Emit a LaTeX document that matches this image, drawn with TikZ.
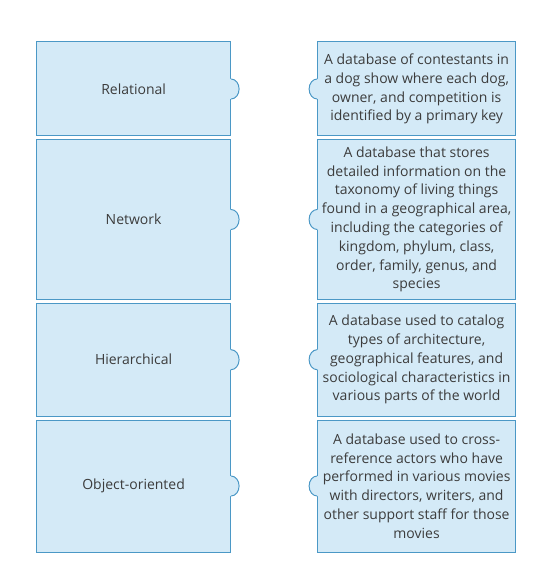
\documentclass[tikz,border=0pt]{standalone}
\usepackage{fontspec}
\setmainfont{Open Sans}
\usepackage{tikz}
\usetikzlibrary{positioning}
\definecolor{Pale}{HTML}{D4EAF7}
\definecolor{Edge}{HTML}{4B98C6}
\definecolor{Ink}{HTML}{3C3C3C}

\begin{document}
\begin{tikzpicture}[
          x=1pt, y=-1pt,
          font=\fontsize{14}{18.8}\selectfont,
          card/.style={draw=Edge, fill=Pale, line width=1pt, inner sep=0pt, align=center, text=Ink},
          term/.style={card, minimum width=194pt},
          desc/.style={card, minimum width=198pt},
          tabline/.style={draw=Edge, line width=1pt}
        ]
          \useasboundingbox (0,0) rectangle (550,572);

          \node[term, minimum height=94pt] (l1) at (133.6,89) {Relational};
          \node[desc, minimum height=94pt] (r1) at (416.6,89) {A database of contestants in\\a dog show where each dog,\\owner, and competition is\\identified by a primary key};

          \node[term, minimum height=159pt] (l2) at (133.6,219.5) {Network};
          \node[desc, minimum height=159pt] (r2) at (416.6,219.5) {A database that stores\\detailed information on the\\taxonomy of living things\\found in a geographical area,\\including the categories of\\kingdom, phylum, class,\\order, family, genus, and\\species};

          \node[term, minimum height=113pt] (l3) at (133.6,359.7) {Hierarchical};
          \node[desc, minimum height=113pt] (r3) at (416.6,359.7) {A database used to catalog\\types of architecture,\\geographical features, and\\sociological characteristics in\\various parts of the world};

          \node[term, minimum height=132pt] (l4) at (133.6,486) {Object-oriented};
          \node[desc, minimum height=132pt] (r4) at (416.6,486) {A database used to cross-\\reference actors who have\\performed in various movies\\with directors, writers, and\\other support staff for those\\movies};

          % tabs on the facing sides
          \foreach \n in {1,...,4} {
            \fill[Pale] ([shift={(-1pt,10pt)}]l\n.east) -- ++(1pt,0pt) arc[start angle=90, end angle=-90, x radius=8pt, y radius=10pt] -- ++(-1pt,0pt) -- cycle;
            \draw[tabline] ([yshift=10pt]l\n.east) arc[start angle=90, end angle=-90, x radius=8pt, y radius=10pt];
            \fill[Pale] ([shift={(1pt,10pt)}]r\n.west) -- ++(-1pt,0pt) arc[start angle=90, end angle=270, x radius=8pt, y radius=10pt] -- ++(1pt,0pt) -- cycle;
            \draw[tabline] ([yshift=10pt]r\n.west) arc[start angle=90, end angle=270, x radius=8pt, y radius=10pt];
          }
        \end{tikzpicture}
\end{document}
